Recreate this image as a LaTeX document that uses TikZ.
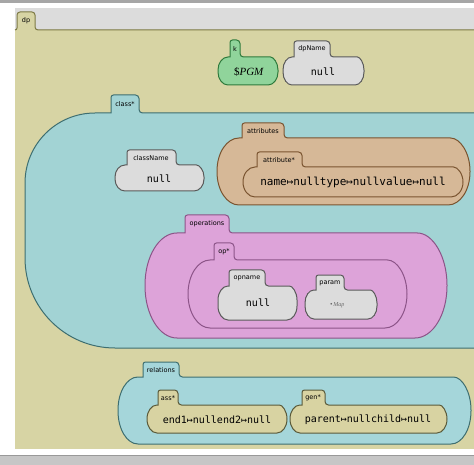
\documentclass[tikz,border=0pt]{standalone}
\usepackage{fontspec}
\setmainfont{Liberation Serif}
\newfontfamily\tabfont{DejaVu Sans}
\newfontfamily\monofont{DejaVu Sans Mono}
\definecolor{panelc}{HTML}{D7D4A4}
\definecolor{titlec}{HTML}{DCDCDC}
\definecolor{olivec}{HTML}{7D7A45}
\definecolor{tealc}{HTML}{A2D3D4}
\definecolor{tealb}{HTML}{3E6E70}
\definecolor{tanc}{HTML}{D6B897}
\definecolor{tanb}{HTML}{7A5430}
\definecolor{pinkc}{HTML}{DDA3D9}
\definecolor{pinkb}{HTML}{8C5488}
\definecolor{grayc}{HTML}{DCDCDC}
\definecolor{grayb}{HTML}{5A5A5A}
\definecolor{greenc}{HTML}{90D49B}
\definecolor{greenb}{HTML}{2F7A3C}
\definecolor{relc}{HTML}{A5D6DA}
\definecolor{inbeige}{HTML}{D8D3A2}
\definecolor{inbeigeb}{HTML}{5A5A3A}
\def\tbf{2.5pt}
\def\tbt{3.5pt}
\def\tbry{13}
% #1 style #2 x1 #3 yb #4 x2 #5 y2 #6 tx1 #7 tx2 #8 ty #9 rx ; vertical radius \tbry
\newcommand\tabbox[9]{%
\draw[#1] (#2,{#3+\tbry}) .. controls (#2,{#3+\tbry*0.4477}) and ({#2+#9*0.4477},#3) .. ({#2+#9},#3)
 -- (#6,#3) [rounded corners=\tbf] -- (#6,#8) [rounded corners=\tbt] -- (#7,#8) -- (#7,#3)
 [rounded corners=\tbf] -- ({#4-#9},#3) [sharp corners]
 .. controls ({#4-#9*0.4477},#3) and (#4,{#3+\tbry*0.4477}) .. (#4,{#3+\tbry})
 -- (#4,{#5-\tbry}) .. controls (#4,{#5-\tbry*0.4477}) and ({#4-#9*0.4477},#5) .. ({#4-#9},#5)
 -- ({#2+#9},#5) .. controls ({#2+#9*0.4477},#5) and (#2,{#5-\tbry*0.4477}) .. (#2,{#5-\tbry}) -- cycle;}
\tikzset{
 lbl/.style={font=\tabfont\fontsize{6.5}{6.5}\selectfont, inner sep=0pt, text=black},
 val/.style={font=\monofont\fontsize{10}{10}\selectfont, inner sep=0pt, text=black},
 graynd/.style={fill=grayc, draw=grayb, line width=1pt},
 greennd/.style={fill=greenc, draw=greenb, line width=1pt},
 tealnd/.style={fill=tealc, draw=tealb, line width=1pt},
 tannd/.style={fill=tanc, draw=tanb, line width=1pt},
 pinknd/.style={fill=pinkc, draw=pinkb, line width=1pt},
 relnd/.style={fill=relc, draw=tealb, line width=1pt},
 inbnd/.style={fill=inbeige, draw=inbeigeb, line width=1pt},
}
\begin{document}
\begin{tikzpicture}[x=1pt,y=-1pt]
\useasboundingbox (0,0) rectangle (474,465);
\fill[white] (0,0) rectangle (474,465);
% top and bottom bands
\fill[gray!70] (0,0) rectangle (474,3);
\fill[gray!45] (0,455) rectangle (474,465);
\draw[gray!80, line width=1pt] (0,455.5) -- (474,455.5);
% panel
\fill[titlec] (15,8) rectangle (474,30);
\fill[panelc] (15,30) rectangle (474,449);
\draw[fill=panelc, draw=olivec, line width=1pt] (15,30) [rounded corners=2pt] -- (17,30) [rounded corners=3pt] -- (17,12) -- (35,12) -- (35,30) [rounded corners=2pt] -- (474,30);
\node[lbl] (dplbl) at (26,21) {dp};
% class
\begin{scope}
\clip (15,30) rectangle (474,449);
\draw[tealnd] (25,183) .. controls (25,{183-70*0.5523}) and ({95-70*0.5523},113) .. (95,113)
 -- (111,113) [rounded corners=\tbf] -- (111,95) [rounded corners=\tbt] -- (139,95) -- (139,113)
 [rounded corners=\tbf] -- (530,113) [sharp corners] -- (530,348) -- (115,348)
 .. controls ({115-90*0.5523},348) and (25,{258+90*0.5523}) .. (25,258) -- cycle;
\end{scope}
\node[lbl] (classlbl) at (125,104) {class*};
% k and dpName
\def\tbry{13}
\tabbox{greennd}{218}{57}{278}{85}{230}{240}{40}{10}
\tabbox{graynd}{283}{57}{364}{85}{294}{330}{41}{9}
\node[lbl] (klbl) at (235,49) {k};
\node[lbl] (dpnamelbl) at (312,49) {dpName};
\node[inner sep=0pt, font=\fontsize{11}{11}\selectfont, text=black] (kval) at (249,72) {\$\textit{PGM}};
\node[val] (dpnameval) at (323,72) {null};
% className
\def\tbry{12}
\tabbox{graynd}{115}{165}{204}{191}{127}{176}{150}{10}
\node[lbl] (cnlbl) at (151,158) {className};
\node[val] (cnval) at (159,179) {null};
% attributes
\def\tbry{33}
\tabbox{tannd}{217}{138}{470}{205}{242}{284}{123}{22}
\node[lbl] (attrlbl) at (263,131) {attributes};
\def\tbry{15}
\tabbox{tannd}{243}{167}{463}{197}{257}{302}{152}{12}
\node[lbl] (attrslbl) at (279,160) {attribute*};
\node[val, font=\monofont\fontsize{11}{11}\selectfont] (attrval) at (353,182) {name↦nulltype↦nullvalue↦null};
% operations
\def\tbry{52}
\tabbox{pinknd}{145}{233}{447}{338}{185}{229}{215}{32}
\node[lbl] (opslbl) at (207,224) {operations};
\def\tbry{34}
\tabbox{pinknd}{188}{260}{407}{328}{214}{234}{243}{22}
\node[lbl] (oplbl) at (224,252) {op*};
\def\tbry{14}
\tabbox{graynd}{218}{286}{297}{320}{229}{265}{270}{10}
\node[lbl] (opnamelbl) at (247,278) {opname};
\node[val] (opnameval) at (258,303) {null};
\def\tbry{13}
\tabbox{graynd}{305}{290}{377}{319}{316}{344}{275}{9}
\node[lbl] (paramlbl) at (330,283) {param};
\node[inner sep=0pt, text=gray!80!black, font=\fontsize{6}{6}\selectfont] (paramval) at (337,305) {{\tabfont•}\textit{Map}};
% relations
\def\tbry{33}
\tabbox{relnd}{118}{377}{471}{444}{143}{179}{362}{20}
\node[lbl] (rellbl) at (161,370) {relations};
\def\tbry{14}
\tabbox{inbnd}{147}{405}{287}{433}{158}{178}{390}{10}
\tabbox{inbnd}{290}{405}{447}{433}{302}{325}{390}{10}
\node[lbl] (asslbl) at (168,398) {ass*};
\node[lbl] (genlbl) at (313,398) {gen*};
\node[val] (assval) at (217,420) {end1↦nullend2↦null};
\node[val] (genval) at (368,420) {parent↦nullchild↦null};
\end{tikzpicture}
\end{document}
